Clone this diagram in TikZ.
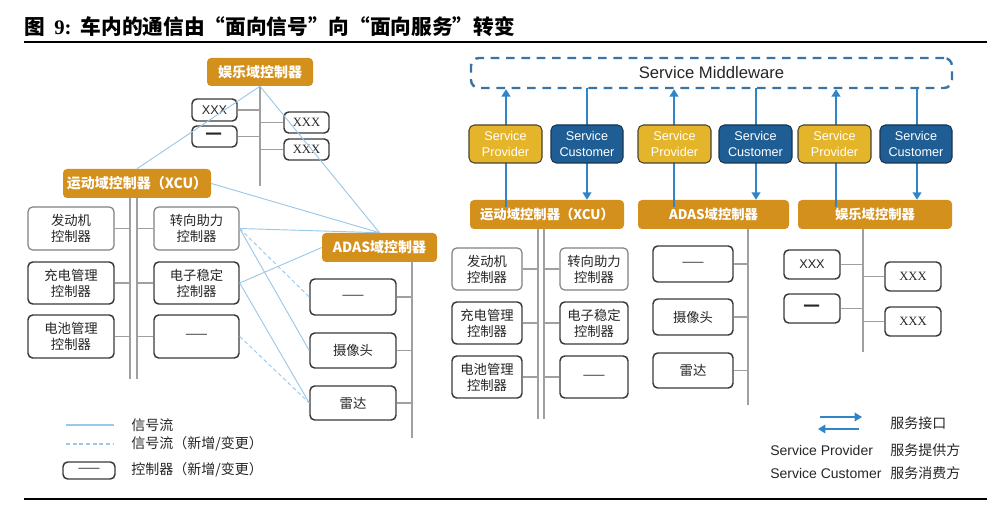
\documentclass[tikz,border=0pt]{standalone}
\usepackage{fontspec}
\setmainfont{Liberation Sans}
\newfontfamily\cjk{Noto Sans CJK SC}
\newfontfamily\serifx{Liberation Serif}
\usetikzlibrary{arrows.meta,calc}
\definecolor{domorange}{HTML}{D4901C}
\definecolor{provgold}{HTML}{E4B42A}
\definecolor{provborder}{HTML}{4A4330}
\definecolor{custblue}{HTML}{1F5E94}
\definecolor{custborder}{HTML}{1A3550}
\definecolor{arrblue}{HTML}{2E86C8}
\definecolor{sigblue}{HTML}{9CC8E8}
\definecolor{boxdark}{HTML}{3A3A3A}
\definecolor{boxlight}{HTML}{808080}
\definecolor{busgray}{HTML}{A0A0A0}
\definecolor{mwblue}{HTML}{3A74A5}
\newcommand\bx[7][cbox]{\node[#1, minimum width={(#5-#3)*0.75pt}, minimum height={(#6-#4)*0.75pt}] (#2) at ({(#3+#5)/2},{(#4+#6)/2}) {#7};}
\newcommand\bigdash{{\fontsize{14}{14}\selectfont\bfseries —}}
\tikzset{
 cbox/.style={draw=boxdark, line width=1.1pt, rounded corners=3.5pt, fill=white, align=center, inner sep=0pt, text=black!85, font=\cjk\fontsize{10}{12}\selectfont},
 lcbox/.style={cbox, draw=boxlight, line width=0.9pt},
 xsans/.style={cbox, font=\fontsize{9.5}{10}\selectfont},
 xserif/.style={cbox, font=\serifx\fontsize{9.5}{10}\selectfont},
 domL/.style={fill=domorange, rounded corners=3pt, text=white, inner sep=0pt, font=\cjk\bfseries\fontsize{10.5}{12}\selectfont},
 domR/.style={domL, font=\cjk\bfseries\fontsize{10}{12}\selectfont},
 provbox/.style={fill=provgold, draw=provborder, line width=0.8pt, rounded corners=4pt, text=white, align=center, inner sep=0pt, font=\fontsize{9.5}{11.5}\selectfont},
 custbox/.style={provbox, fill=custblue, draw=custborder},
 busl/.style={draw=busgray, line width=0.8pt},
 sig/.style={draw=sigblue, line width=0.7pt},
 sigd/.style={sig, dash pattern=on 3pt off 2pt},
 arr/.style={draw=arrblue, line width=1.2pt, -{Triangle[length=5.5pt,width=6.5pt]}},
 legtxt/.style={anchor=west, inner sep=0pt, text=black!85, font=\cjk\fontsize{10.5}{12}\selectfont},
}
\begin{document}
\begin{tikzpicture}[x=0.75pt,y=-0.75pt]
\useasboundingbox (0,0) rectangle (1000,505);
% title
\node[anchor=west, inner sep=0pt] (title) at (24,27) {\cjk\bfseries\fontsize{15.5}{16}\selectfont 图\hspace{7pt}{\serifx\bfseries 9:}\hspace{7pt}车内的通信由“面向信号”向“面向服务”转变};
\coordinate (t1) at (24,42); \coordinate (t2) at (987,42);
\draw[line width=1.2pt] (t1) -- (t2);
\coordinate (b1) at (24,499); \coordinate (b2) at (987,499);
\draw[line width=1.2pt] (b1) -- (b2);

% ===== LEFT =====
\bx[domL]{ent1}{207}{58}{313}{86}{娱乐域控制器}
\bx[xsans]{ex1}{192}{99}{237}{121}{XXX}
\bx[cbox]{ed1}{192}{126}{237}{147}{\bigdash}
\bx[xserif]{ex2}{284}{112}{329}{133}{XXX}
\bx[xserif]{ex3}{284}{139}{329}{160}{XXX}
\coordinate (eb) at (260,86); \coordinate (ebe) at (260,186);
\draw[busl] (eb) -- (ebe);
\draw[busl] (ex1.east) -- (ex1.east -| eb);
\draw[busl] (ed1.east) -- (ed1.east -| eb);
\draw[busl] (ex2.west) -- (ex2.west -| eb);
\draw[busl] (ex3.west) -- (ex3.west -| eb);

\bx[domL]{xcuL}{63}{169}{211}{198}{运动域控制器（XCU）}
\coordinate (xa) at (130,198); \coordinate (xae) at (130,379);
\coordinate (xb) at (137,198); \coordinate (xbe) at (137,379);
\draw[busl] (xa) -- (xae);
\draw[busl] (xb) -- (xbe);
\bx[lcbox]{L1}{28}{207}{114}{250}{发动机\\控制器}
\bx[cbox]{L2}{28}{262}{114}{304}{充电管理\\控制器}
\bx[cbox]{L3}{28}{315}{114}{358}{电池管理\\控制器}
\bx[lcbox]{R1}{154}{207}{239}{250}{转向助力\\控制器}
\bx[cbox]{R2}{154}{262}{239}{304}{电子稳定\\控制器}
\bx[cbox]{R3}{154}{315}{239}{358}{——}
\foreach \n in {L1,L2,L3} \draw[busl] (\n.east) -- (\n.east -| xa);
\foreach \n in {R1,R2,R3} \draw[busl] (\n.west) -- (\n.west -| xb);

\bx[domL]{adasL}{322}{233}{437}{262}{ADAS域控制器}
\coordinate (ab) at (412,262); \coordinate (abe) at (412,438);
\draw[busl] (ab) -- (abe);
\bx[cbox]{A1}{310}{279}{396}{315}{——}
\bx[cbox]{A2}{310}{333}{396}{368}{摄像头}
\bx[cbox]{A3}{310}{386}{396}{420}{雷达}
\foreach \n in {A1,A2,A3} \draw[busl] (\n.east) -- (\n.east -| ab);

% signal flows
\draw[sig] (ent1.south) -- (xcuL.north);
\draw[sig] (ent1.south) -- (adasL.north);
\draw[sig] (xcuL.east) -- (adasL.north);
\draw[sig] (R1.east) -- (adasL.north);
\draw[sig] (R1.east) -- (A2.west);
\draw[sigd] (R1.east) -- (A1.west);
\draw[sig] (R2.east) -- (adasL.west);
\draw[sig] (R2.east) -- (A3.west);
\draw[sigd] (R3.east) -- (A3.west);

% left legend
\coordinate (lg1a) at (66,425); \coordinate (lg1b) at (114,425);
\draw[sig, line width=0.9pt] (lg1a) -- (lg1b);
\coordinate (lg2a) at (66,444); \coordinate (lg2b) at (114,444);
\draw[sigd, line width=0.9pt] (lg2a) -- (lg2b);
\bx[cbox]{lgbox}{63}{462}{115}{479}{——}
\node[legtxt] (lt1) at (131,425) {信号流};
\node[legtxt] (lt2) at (131,444) {信号流（新增/变更）};
\node[legtxt] (lt3) at (131,470) {控制器（新增/变更）};

% ===== RIGHT =====
\bx[draw=mwblue, line width=1.8pt, dash pattern=on 6.5pt off 5pt, rounded corners=6pt, text=black!85, font=\fontsize{12.5}{14}\selectfont, inner sep=0pt]{mw}{471}{58}{952}{88}{Service Middleware}

\bx[domR]{D1}{470}{200}{624}{229}{运动域控制器（XCU）}
\bx[domR]{D2}{638}{200}{789}{229}{ADAS域控制器}
\bx[domR]{D3}{798}{200}{952}{229}{娱乐域控制器}

% arrows (drawn before service boxes)
\coordinate (p1) at (506,207); \coordinate (p2) at (674,207); \coordinate (p3) at (836,207);
\coordinate (c1) at (587,88); \coordinate (c2) at (756,88); \coordinate (c3) at (917,88);
\draw[arr] (p1) -- (p1 |- mw.south);
\draw[arr] (p2) -- (p2 |- mw.south);
\draw[arr] (p3) -- (p3 |- mw.south);
\draw[arr] (c1) -- (c1 |- D1.north);
\draw[arr] (c2) -- (c2 |- D2.north);
\draw[arr] (c3) -- (c3 |- D3.north);

\bx[provbox]{SP1}{469}{125}{542}{163}{Service\\Provider}
\bx[custbox]{SC1}{551}{125}{623}{163}{Service\\Customer}
\bx[provbox]{SP2}{638}{125}{711}{163}{Service\\Provider}
\bx[custbox]{SC2}{719}{125}{792}{163}{Service\\Customer}
\bx[provbox]{SP3}{798}{125}{871}{163}{Service\\Provider}
\bx[custbox]{SC3}{880}{125}{952}{163}{Service\\Customer}

% XCU subtree
\coordinate (ya) at (538,229); \coordinate (yae) at (538,419);
\coordinate (yb) at (544,229); \coordinate (ybe) at (544,419);
\draw[busl] (ya) -- (yae);
\draw[busl] (yb) -- (ybe);
\bx[lcbox]{LL1}{452}{248}{522}{290}{发动机\\控制器}
\bx[cbox]{LL2}{452}{302}{522}{344}{充电管理\\控制器}
\bx[cbox]{LL3}{452}{356}{522}{398}{电池管理\\控制器}
\bx[lcbox]{RR1}{560}{248}{628}{290}{转向助力\\控制器}
\bx[cbox]{RR2}{560}{302}{628}{344}{电子稳定\\控制器}
\bx[cbox]{RR3}{560}{356}{628}{398}{——}
\foreach \n in {LL1,LL2,LL3} \draw[busl] (\n.east) -- (\n.east -| ya);
\foreach \n in {RR1,RR2,RR3} \draw[busl] (\n.west) -- (\n.west -| yb);

% ADAS subtree
\coordinate (zb) at (748,229); \coordinate (zbe) at (748,405);
\draw[busl] (zb) -- (zbe);
\bx[cbox]{AA1}{653}{246}{733}{282}{——}
\bx[cbox]{AA2}{653}{299}{733}{335}{摄像头}
\bx[cbox]{AA3}{653}{353}{733}{388}{雷达}
\foreach \n in {AA1,AA2,AA3} \draw[busl] (\n.east) -- (\n.east -| zb);

% Entertainment subtree
\coordinate (wb) at (863,229); \coordinate (wbe) at (863,352);
\draw[busl] (wb) -- (wbe);
\bx[xsans]{EE1}{784}{250}{840}{279}{XXX}
\bx[cbox]{EE2}{784}{294}{840}{323}{\bigdash}
\bx[xserif]{EE3}{885}{262}{941}{291}{XXX}
\bx[xserif]{EE4}{885}{307}{941}{336}{XXX}
\draw[busl] (EE1.east) -- (EE1.east -| wb);
\draw[busl] (EE2.east) -- (EE2.east -| wb);
\draw[busl] (EE3.west) -- (EE3.west -| wb);
\draw[busl] (EE4.west) -- (EE4.west -| wb);

% right legend
\coordinate (ra1) at (820,417); \coordinate (ra2) at (862,417);
\coordinate (rb1) at (859,429); \coordinate (rb2) at (818,429);
\draw[arr, line width=1pt] (ra1) -- (ra2);
\draw[arr, line width=1pt] (rb1) -- (rb2);
\node[legtxt] (rt1) at (890,423) {服务接口};
\node[legtxt, font=\fontsize{10.5}{12}\selectfont] (rt2) at (770,450) {Service Provider};
\node[legtxt] (rt3) at (890,450) {服务提供方};
\node[legtxt, font=\fontsize{10.5}{12}\selectfont] (rt4) at (770,473) {Service Customer};
\node[legtxt] (rt5) at (890,473) {服务消费方};
\end{tikzpicture}
\end{document}
